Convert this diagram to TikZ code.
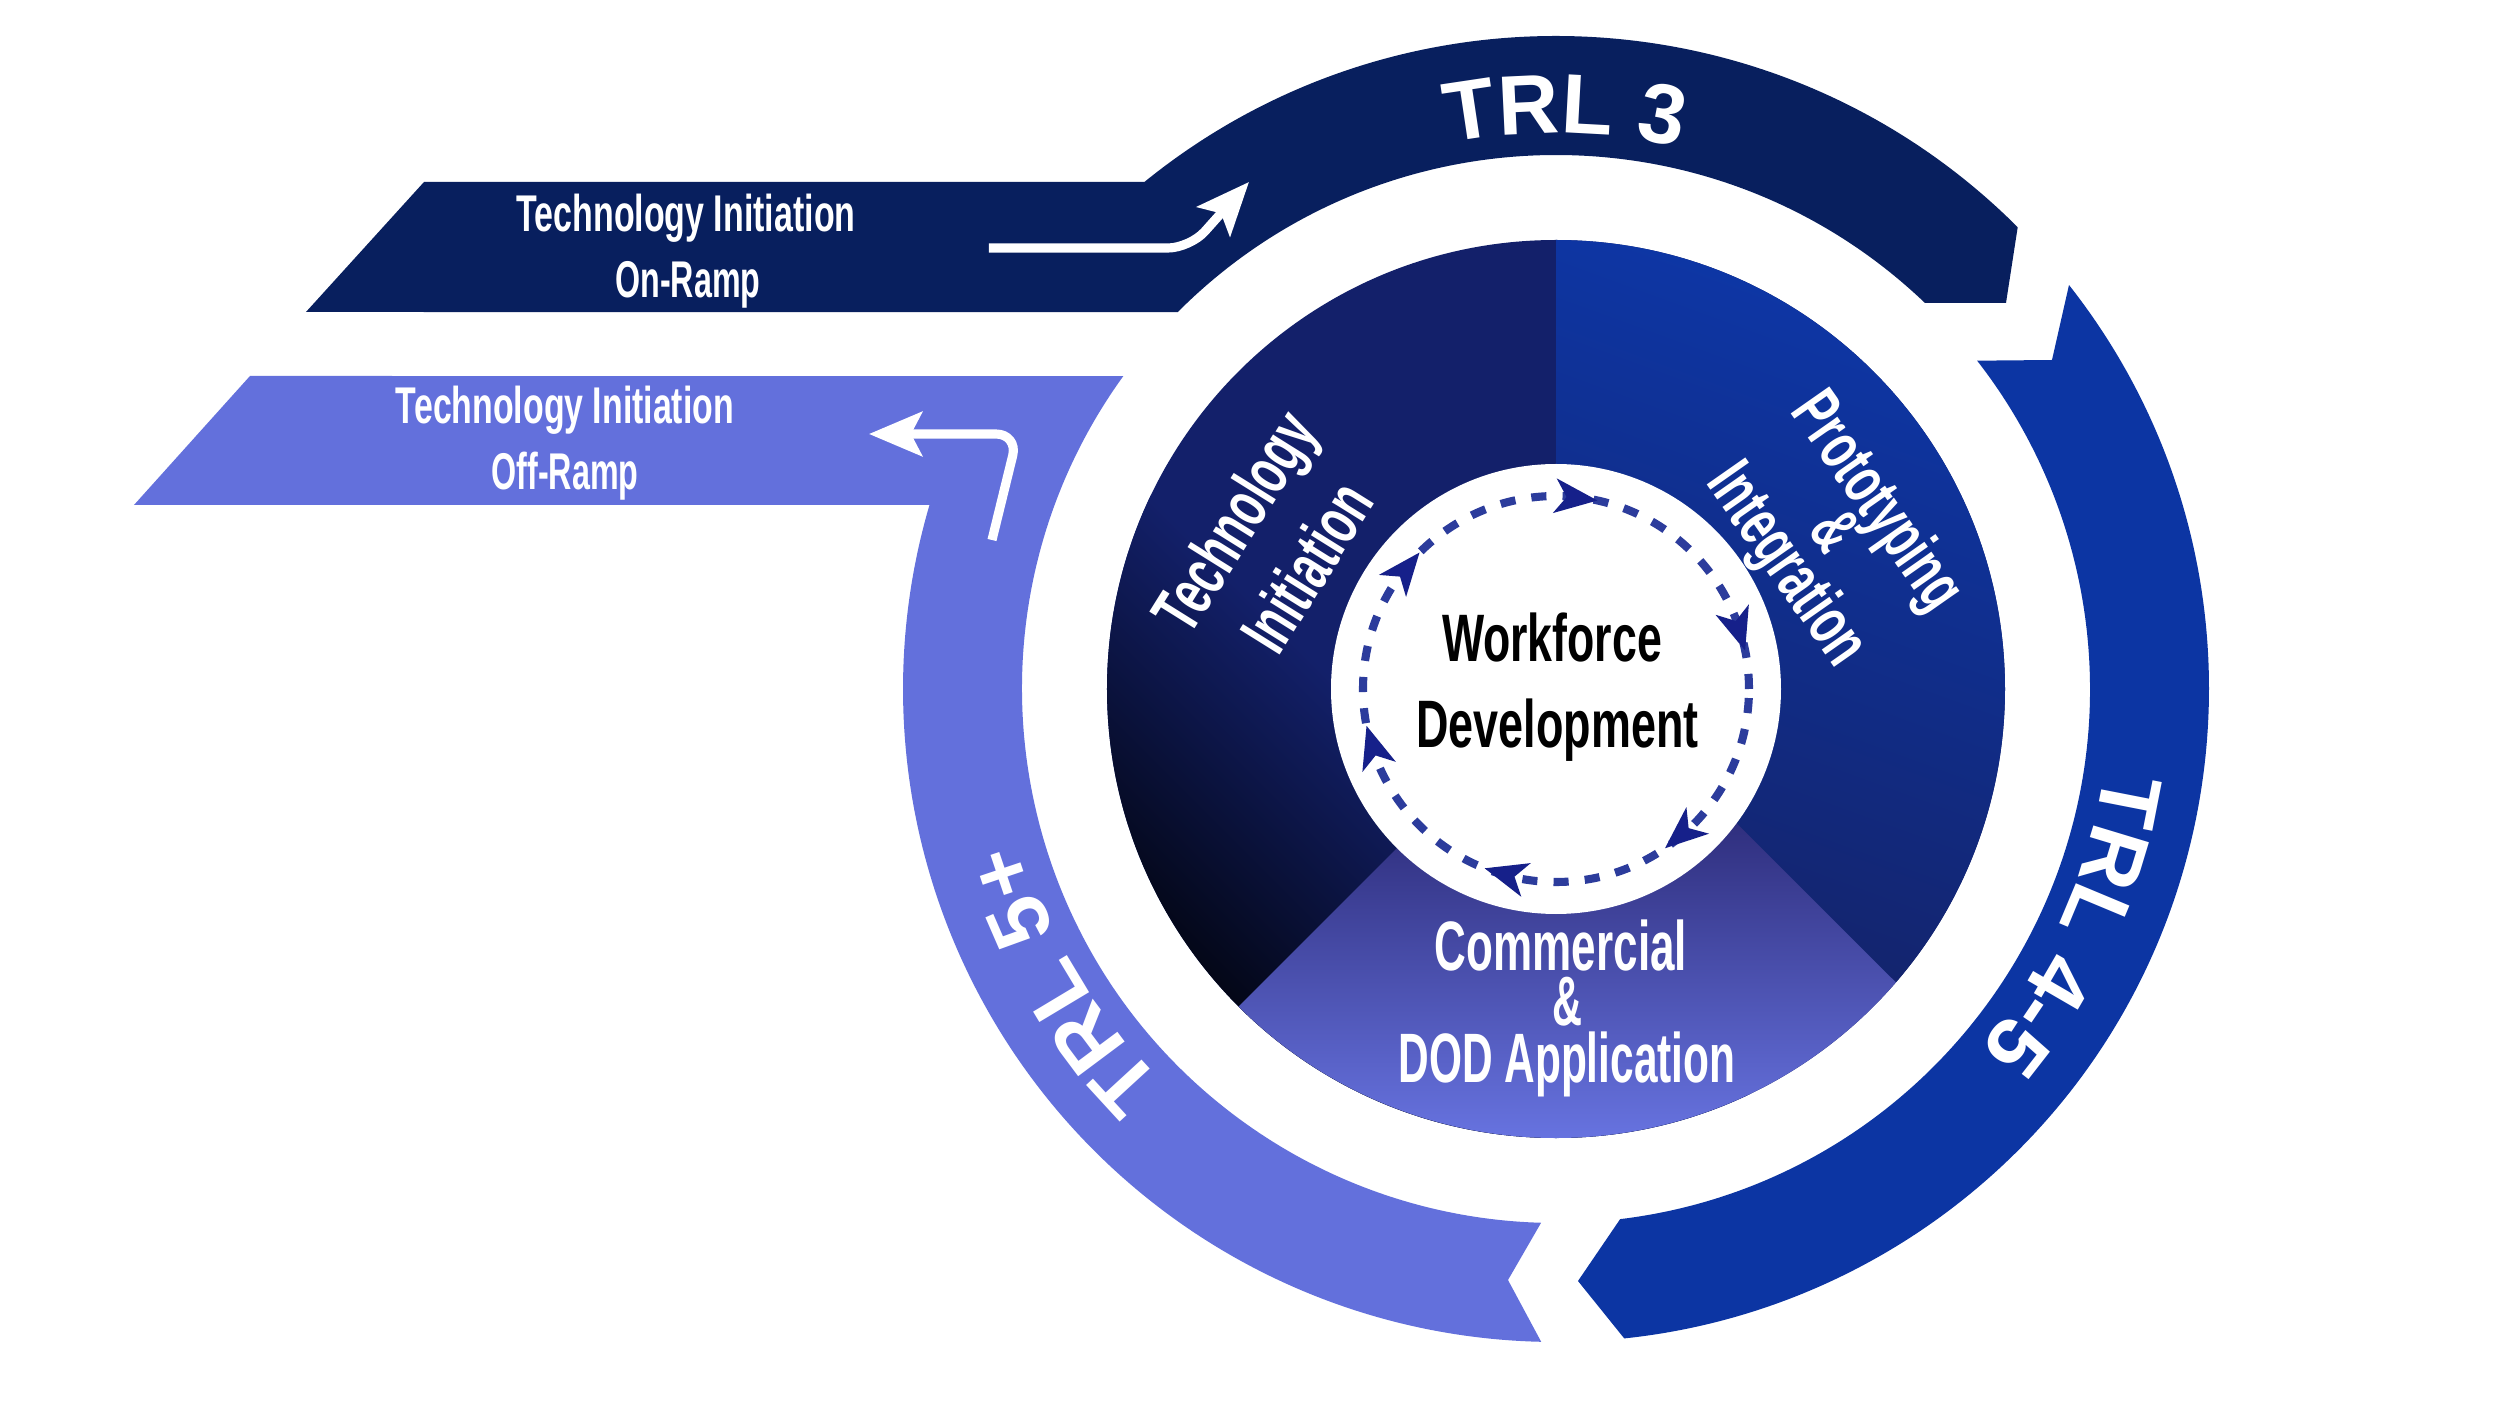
\documentclass[tikz,border=0pt]{standalone}
\usepackage{fontspec}
\setmainfont{Liberation Sans}
\usepackage{graphicx}
\usetikzlibrary{arrows.meta,decorations.text}
\definecolor{navy}{HTML}{081F5E}
\definecolor{royal}{HTML}{0C35A3}
\definecolor{lav}{HTML}{6370DC}
\definecolor{dashc}{HTML}{2C3C9C}
\definecolor{headc}{HTML}{16208A}
\definecolor{tiA}{HTML}{13206A}
\definecolor{tiM}{HTML}{0E1A55}
\definecolor{tiD}{HTML}{030614}
\definecolor{piA}{HTML}{0D37A8}
\definecolor{piB}{HTML}{14236A}
\definecolor{cmA}{HTML}{2D2C7A}
\definecolor{cmB}{HTML}{6773E0}
\newcommand\fitw[2]{\resizebox{#1}{\height}{#2}}
\newcommand\trlfont{\bfseries\fontsize{24}{24}\selectfont}
\begin{document}
\begin{tikzpicture}
\tikzset{
  rtext/.style={text=white, inner sep=0pt, anchor=base, font=\bfseries\fontsize{14.7}{15}\selectfont},
  wtext/.style={text=black, inner sep=0pt, anchor=base, font=\bfseries\fontsize{19.1}{20}\selectfont},
  ctext/.style={text=white, inner sep=0pt, anchor=base, font=\bfseries\fontsize{19.9}{20}\selectfont},
  sect/.style={text=white, inner sep=0pt, anchor=base, font=\bfseries\fontsize{19.5}{20}\selectfont},
  ramparrow/.style={white, line width=2.6pt, rounded corners=0.22cm, -{Stealth[length=0.53cm, width=0.44cm, inset=0.11cm]}},
  ringtext/.style={decorate, decoration={text along path, text align=center, text color=white, text={|\trlfont|#1}}}
}
\useasboundingbox (-15.56,-7.17) rectangle (9.44,6.89);
\fill[white] (-15.56,-7.17) rectangle (9.44,6.89);

% outer ring segments
\fill[navy] (-12.50,3.77) -- (-11.32,5.07) -- (-4.116,5.07) arc[start angle=129.07, end angle=45, radius=6.53] -- (4.50,3.86) -- (3.690,3.86) arc[start angle=46.29, end angle=135.1, radius=5.34] -- cycle;
\fill[royal] (38.22:6.53) arc[start angle=38.22, end angle=-84, radius=6.53] -- (0.22,-5.92) -- (-83.1:5.34) arc[start angle=-83.1, end angle=37.94, radius=5.34] -- (4.96,3.29) -- cycle;
\fill[lav] (268.7:6.53) arc[start angle=268.7, end angle=163.63, radius=6.53] -- (-14.22,1.84) -- (-13.06,3.13) -- (144.12:5.34) arc[start angle=144.12, end angle=268.4, radius=5.34] -- (-0.48,-5.91) -- cycle;

% inner disk sectors
\begin{scope}
  \clip (0,0) circle[radius=4.49];
  \fill[tiA] (0,0) circle[radius=4.6];
  \begin{scope}[transform canvas={rotate=45}]
    \shade[left color=tiD, middle color=tiM, right color=tiA] (-4.6,-5) rectangle (-1.5,5);
  \end{scope}
\end{scope}
\begin{scope}
  \clip (0,0.46) -- (0,4.49) arc[start angle=90, end angle=-40.8, radius=4.49] -- cycle;
  \shade[top color=piA, bottom color=piB, shading angle=-20] (-0.1,-3.2) rectangle (4.6,4.6);
\end{scope}
\begin{scope}
  \clip (0.23,0.23) -- (225:4.49) arc[start angle=225, end angle=319.2, radius=4.49] -- cycle;
  \shade[top color=cmA, bottom color=cmB] (-4.6,-4.5) rectangle (4.6,-1.2);
\end{scope}

% centre
\fill[white] (0,0) circle[radius=2.25];
\draw[dashc, line width=2.3pt, dash pattern=on 4.3pt off 4.6pt] (0,0) circle[radius=1.93];
\foreach \a in {77.6,11.5,-55.6,-111.7,-169,135} {
  \fill[headc, shift={(\a:1.93)}, rotate=\a-84] (0,0) -- (-0.43,0.175) -- (-0.31,0) -- (-0.43,-0.175) -- cycle;
}
\node[wtext] (w1) at (-0.04,0.27) {\fitw{2.20cm}{Workforce}};
\node[wtext] (w2) at (0.015,-0.59) {\fitw{2.82cm}{Development}};

% sector texts
\begin{scope}[shift={(-2.86,1.45)}, rotate=58, transform shape]
  \node[sect] (ti1) at (0,0.185) {\scalebox{0.645}[1]{Technology}};
  \node[sect] (ti2) at (0,-0.675) {\scalebox{0.645}[1]{Initiation}};
\end{scope}
\begin{scope}[shift={(2.81,1.59)}, rotate=-55, transform shape]
  \node[sect] (pi1) at (0,0.29) {\scalebox{0.645}[1]{Prototyping}};
  \node[sect] (pi2) at (0,-0.245) {\scalebox{0.645}[1]{\&}};
  \node[sect] (pi3) at (0,-0.81) {\scalebox{0.645}[1]{Integration}};
\end{scope}
\node[ctext] (c1) at (0.05,-2.81) {\fitw{2.52cm}{Commercial}};
\node[ctext] (c2) at (0.11,-3.36) {\fitw{0.30cm}{\&}};
\node[ctext] (c3) at (0.11,-3.93) {\fitw{3.37cm}{DOD Application}};

% ramps
\node[rtext] (on1) at (-8.70,4.57) {\fitw{3.39cm}{Technology Initiation}};
\node[rtext] (on2) at (-8.68,3.91) {\fitw{1.45cm}{On-Ramp}};
\node[rtext] (off1) at (-9.91,2.65) {\fitw{3.38cm}{Technology Initiation}};
\node[rtext] (off2) at (-9.91,1.99) {\fitw{1.47cm}{Off-Ramp}};

\coordinate (onA) at (-5.67,4.41);
\coordinate (onB) at (-3.66,4.41);
\coordinate (onC) at (-3.07,5.07);
\draw[ramparrow] (onA) -- (onB) -- (onC);
\coordinate (offA) at (-5.64,1.49);
\coordinate (offB) at (-5.38,2.55);
\coordinate (offC) at (-6.87,2.55);
\draw[ramparrow] (offA) -- (offB) -- (offC);

% ring labels
\path[ringtext={TRL 3}] (119.1:5.56) arc[start angle=119.1, end angle=59.1, radius=5.56];
\path[ringtext={TRL 4-5}] (5.65:5.55) arc[start angle=5.65, end angle=-54.35, radius=5.55];
\path[ringtext={TRL 5+}] (240.6:5.56) arc[start angle=240.6, end angle=180.6, radius=5.56];
\end{tikzpicture}
\end{document}
